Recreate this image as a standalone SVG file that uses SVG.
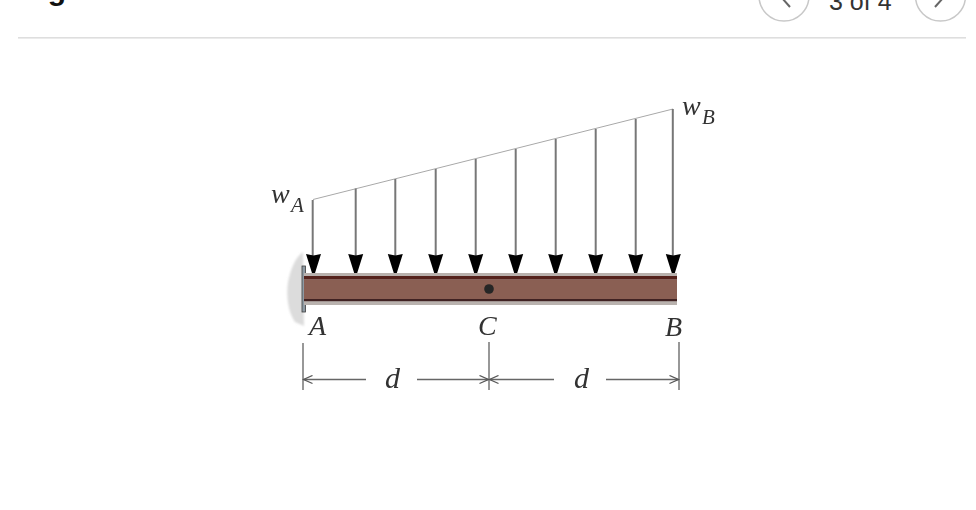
<svg xmlns="http://www.w3.org/2000/svg" width="976" height="510" viewBox="0 0 976 510">
<defs>
<style>
.load{stroke:#777;stroke-width:2;fill:none}
.head{fill:#000}
.dim{stroke:#666;stroke-width:1.3;fill:none}
.ext{stroke:#777;stroke-width:1.5;fill:none}
.lab{font-family:"Liberation Serif",serif;font-style:italic;fill:#333;font-size:28px}
.big{font-size:30px}
.sub{font-family:"Liberation Serif",serif;font-style:italic;fill:#333;font-size:21px}
.ui{font-family:"Liberation Sans",Arial,sans-serif}
</style>
<filter id="soft" x="-5%" y="-5%" width="110%" height="110%"><feGaussianBlur stdDeviation="0.5"/></filter>
<filter id="soft2" x="-30%" y="-10%" width="160%" height="120%"><feGaussianBlur stdDeviation="1"/></filter>
<marker id="open" markerWidth="12" markerHeight="10" refX="10" refY="5" orient="auto-start-reverse" markerUnits="userSpaceOnUse"><path d="M1 1 L10 5 L1 9" fill="none" stroke="#555" stroke-width="1.3"/></marker>
<g id="ah"><path class="head" d="M-7.500 0 L0 1.500 L7.500 0 L1.200 20 L-1.200 20 Z"/></g>
</defs>
<rect width="976" height="510" fill="#fff"/>
<g id="page-header">
<text class="ui" x="21" y="-0.500" font-size="30" font-weight="bold" fill="#111">Figure</text>
<text class="ui" x="829" y="10" font-size="25" fill="#333">3 of 4</text>
<circle cx="784" cy="-4" r="25" fill="none" stroke="#c8c8c8" stroke-width="1.5"/>
<circle cx="940.500" cy="-4" r="25" fill="none" stroke="#c8c8c8" stroke-width="1.5"/>
<path d="M782 -2 L790 7" fill="none" stroke="#666" stroke-width="2"/>
<path d="M943 -2 L935 7" fill="none" stroke="#666" stroke-width="2"/>
<rect x="18" y="37" width="948" height="1.600" fill="#dedede"/>
</g>
<g id="figure" filter="url(#soft)">
<g id="connectors">
<path d="M313 199.500 L673 109" fill="none" stroke="#a8a8a8" stroke-width="1"/>
<path class="load" d="M312.700 200V256M355.700 188.500V256M395.300 179V256M435.700 169V256M475.700 159V256M515.700 149V256M555.700 139V256M595.700 129V256M635.700 119V256M672.800 109V256"/>
<use href="#ah" x="313.500" y="254"/><use href="#ah" x="355.700" y="254"/><use href="#ah" x="395.300" y="254"/><use href="#ah" x="435.700" y="254"/><use href="#ah" x="475.700" y="254"/><use href="#ah" x="515.700" y="254"/><use href="#ah" x="555.700" y="254"/><use href="#ah" x="595.700" y="254"/><use href="#ah" x="635.700" y="254"/><use href="#ah" x="673.300" y="254"/>
<path class="ext" d="M303 343V390M489 342V390M679 342V390"/>
<path class="dim" marker-start="url(#open)" d="M303.500 379.500H366"/>
<path class="dim" marker-end="url(#open)" d="M417 379.500H488.500"/>
<path class="dim" marker-start="url(#open)" d="M489.500 379.500H554"/>
<path class="dim" marker-end="url(#open)" d="M606 379.500H678.500"/>
</g>
<g id="wall">
<path d="M303 252 C295 258 291 268 288 282 C286 296 288 312 295 322 L304 326 Z" fill="#dcdcdc" filter="url(#soft2)"/>
<rect x="302" y="266" width="3.500" height="46" fill="#8e9aa3" stroke="#3c3c3c" stroke-width="0.8"/>
</g>
<g id="beam">
<rect x="304" y="273" width="373" height="32" fill="#b9b2ae"/>
<rect x="304" y="276" width="373" height="3.500" fill="#55201d"/>
<rect x="304" y="279.500" width="373" height="19.500" fill="#8a5f52"/>
<rect x="304" y="299" width="373" height="2.200" fill="#3f2020"/>
</g>
<g id="point-c"><circle cx="489" cy="289" r="4.800" fill="#252525"/></g>
<g id="labels">
<text class="lab" x="271" y="203">w</text><text class="sub" x="291" y="212">A</text>
<text class="lab" x="682" y="115">w</text><text class="sub" x="702" y="124">B</text>
<text class="lab" x="309" y="335">A</text>
<text class="lab" x="478" y="335">C</text>
<text class="lab" x="665" y="336">B</text>
<text class="lab big" x="385" y="388">d</text>
<text class="lab big" x="574" y="388">d</text>
</g>
</g>
</svg>
